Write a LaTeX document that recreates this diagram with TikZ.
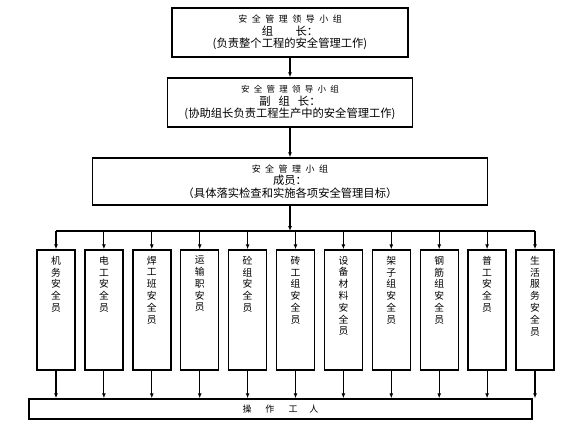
\documentclass[tikz,border=0pt]{standalone}
\usepackage{fontspec}
\setmainfont{Noto Sans CJK SC}
\newfontfamily\titlefont[LetterSpace=50]{Noto Sans CJK SC}
\usetikzlibrary{positioning,arrows.meta}
\tikzset{
  leadbox/.style={draw,line width=1.4pt,align=center,inner sep=0pt,
            font=\fontsize{11.3}{12.5}\selectfont},
  memberbox/.style={draw,line width=1.4pt,minimum width=38pt,
            minimum height=120pt,inner sep=0pt},
  flow/.style={-{Latex[length=5pt,width=4pt]},line width=1.1pt},
  busline/.style={line width=1.1pt},
}
\newcommand{\colstack}[1]{\parbox[c][108pt][t]{12pt}{\centering
  \fontsize{9.8}{11.8}\selectfont #1}}

\begin{document}
\begin{tikzpicture}[x=1pt,y=-1pt]
  \useasboundingbox (0,0) rectangle (576,432);
  % leading groups
  \node[leadbox,minimum width=236pt,minimum height=49pt] (lead) at (290,32.5)
        {{\titlefont\fontsize{9}{12.5}\selectfont 安全管理领导小组}\\组　　长：\\(负责整个工程的安全管理工作)};
  \node[leadbox,minimum width=245pt,minimum height=49pt] (deputy) at (290,102.5)
        {{\titlefont\fontsize{8.5}{12.5}\selectfont 安全管理领导小组}\\副\hspace{8pt}组\hspace{8pt}长：\\(协助组长负责工程生产中的安全管理工作)};
  \node[leadbox,minimum width=395pt,minimum height=47pt] (team) at (290,181.5)
        {{\titlefont\fontsize{9}{12.5}\selectfont 安全管理小组}\\成员：\\（具体落实检查和实施各项安全管理目标）};
  % safety officers
  \node[memberbox] (m1) at (56,310) {\colstack{机\\务\\安\\全\\员}};
  \node[memberbox,right=8.5pt of m1] (m2) {\colstack{电\\工\\安\\全\\员}};
  \node[memberbox,right=8.5pt of m2] (m3) {\colstack{焊\\工\\班\\安\\全\\员}};
  \node[memberbox,right=8.5pt of m3] (m4) {\colstack{运\\输\\职\\安\\员}};
  \node[memberbox,right=8.5pt of m4] (m5) {\colstack{砼\\组\\安\\全\\员}};
  \node[memberbox,right=8.5pt of m5] (m6) {\colstack{砖\\工\\组\\安\\全\\员}};
  \node[memberbox,right=8.5pt of m6] (m7) {\colstack{设\\备\\材\\料\\安\\全\\员}};
  \node[memberbox,right=8.5pt of m7] (m8) {\colstack{架\\子\\组\\安\\全\\员}};
  \node[memberbox,right=8.5pt of m8] (m9) {\colstack{钢\\筋\\组\\安\\全\\员}};
  \node[memberbox,right=8.5pt of m9] (m10) {\colstack{普\\工\\安\\全\\员}};
  \node[memberbox,right=8.5pt of m10] (m11) {\colstack{生\\活\\服\\务\\安\\全\\员}};
  % workers
  \node[leadbox,minimum width=503pt,minimum height=20pt,
        font=\fontsize{9}{11}\selectfont] (workers) at (280.5,409)
        {操\hspace{14pt}作\hspace{14pt}工\hspace{12pt}人};
  \coordinate (bus) at (290,231);
  \draw[flow] (lead) -- (deputy);
  \draw[flow] (deputy) -- (team);
  \draw[flow] (team.south) -- (bus);
  \draw[busline] (m1.north |- bus) -- (m11.north |- bus);
  \foreach \i in {1,...,11}{
    \draw[flow] (m\i.north |- bus) -- (m\i.north);
    \draw[flow] (m\i.south) -- (m\i.south |- workers.north);
  }
\end{tikzpicture}
\end{document}
